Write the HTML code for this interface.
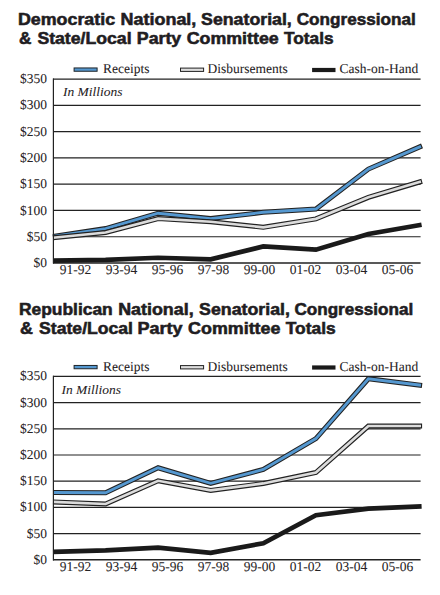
<!DOCTYPE html>
<html><head><meta charset="utf-8"><style>
html,body{margin:0;padding:0;background:#fff;width:440px;height:595px;overflow:hidden}
svg{display:block}
.t{font-family:"Liberation Sans",sans-serif;font-weight:bold;font-size:16px;fill:#1f1d22;stroke:#1f1d22;stroke-width:0.55px}
.s{font-family:"Liberation Serif",serif;font-size:13.5px;text-rendering:geometricPrecision;fill:#262224;stroke:#262224;stroke-width:0.05px}
.i{font-family:"Liberation Serif",serif;font-size:13.5px;font-style:italic;fill:#262224;stroke:#262224;stroke-width:0.05px}
</style></head><body>
<svg width="440" height="595" viewBox="0 0 440 595">

<text class="t" x="17.99" y="24.9" textLength="97.09" lengthAdjust="spacingAndGlyphs">Democratic</text>
<text class="t" x="120.58" y="24.9" textLength="75.75" lengthAdjust="spacingAndGlyphs">National,</text>
<text class="t" x="201.10" y="24.9" textLength="90.70" lengthAdjust="spacingAndGlyphs">Senatorial,</text>
<text class="t" x="296.70" y="24.9" textLength="119.02" lengthAdjust="spacingAndGlyphs">Congressional</text>
<text class="t" x="19.10" y="43.6" textLength="12.40" lengthAdjust="spacingAndGlyphs">&amp;</text>
<text class="t" x="37.40" y="43.6" textLength="94.20" lengthAdjust="spacingAndGlyphs">State/Local</text>
<text class="t" x="136.79" y="43.6" textLength="44.44" lengthAdjust="spacingAndGlyphs">Party</text>
<text class="t" x="186.70" y="43.6" textLength="92.07" lengthAdjust="spacingAndGlyphs">Committee</text>
<text class="t" x="284.10" y="43.6" textLength="49.43" lengthAdjust="spacingAndGlyphs">Totals</text>
<rect x="74.1" y="67.95" width="23" height="3.3" fill="#5598d0" stroke="#1f2428" stroke-width="1"/>
<text class="s" x="103" y="73.0">Receipts</text>
<rect x="180.5" y="68.10" width="23.1" height="3.3" fill="#dedede" stroke="#222" stroke-width="1"/>
<text class="s" x="207.5" y="73.0">Disbursements</text>
<rect x="312.1" y="67.90" width="23.4" height="4.2" fill="#1a1a1a"/>
<text class="s" x="339.5" y="73.0">Cash-on-Hand</text>
<line x1="53" y1="263.00" x2="420.6" y2="263.00" stroke="#222" stroke-width="1.6"/>
<text class="s" x="47" y="267.0" text-anchor="end">$0</text>
<line x1="53" y1="236.73" x2="420.6" y2="236.73" stroke="#222" stroke-width="1.2"/>
<text class="s" x="47" y="240.7" text-anchor="end">$50</text>
<line x1="53" y1="210.46" x2="420.6" y2="210.46" stroke="#222" stroke-width="1.2"/>
<text class="s" x="47" y="214.5" text-anchor="end">$100</text>
<line x1="53" y1="184.19" x2="420.6" y2="184.19" stroke="#222" stroke-width="1.2"/>
<text class="s" x="47" y="188.2" text-anchor="end">$150</text>
<line x1="53" y1="157.91" x2="420.6" y2="157.91" stroke="#222" stroke-width="1.2"/>
<text class="s" x="47" y="161.9" text-anchor="end">$200</text>
<line x1="53" y1="131.64" x2="420.6" y2="131.64" stroke="#222" stroke-width="1.2"/>
<text class="s" x="47" y="135.6" text-anchor="end">$250</text>
<line x1="53" y1="105.37" x2="420.6" y2="105.37" stroke="#222" stroke-width="1.2"/>
<text class="s" x="47" y="109.4" text-anchor="end">$300</text>
<line x1="53" y1="79.10" x2="420.6" y2="79.10" stroke="#222" stroke-width="1.2"/>
<text class="s" x="47" y="83.1" text-anchor="end">$350</text>
<text class="i" x="63" y="95.5">In Millions</text>
<text class="s" x="75.5" y="274.0" text-anchor="middle">91-92</text>
<text class="s" x="121.5" y="274.0" text-anchor="middle">93-94</text>
<text class="s" x="167.5" y="274.0" text-anchor="middle">95-96</text>
<text class="s" x="213.5" y="274.0" text-anchor="middle">97-98</text>
<text class="s" x="259.5" y="274.0" text-anchor="middle">99-00</text>
<text class="s" x="305.5" y="274.0" text-anchor="middle">01-02</text>
<text class="s" x="351.5" y="274.0" text-anchor="middle">03-04</text>
<text class="s" x="397.5" y="274.0" text-anchor="middle">05-06</text>
<polyline points="53.00,236.47 105.60,228.58 158.10,213.19 210.70,218.60 263.30,212.30 315.90,209.04 368.40,169.05 422.01,145.92" fill="none" stroke="#222" stroke-width="5" stroke-linejoin="miter"/>
<polyline points="53.00,236.47 105.60,228.58 158.10,213.19 210.70,218.60 263.30,212.30 315.90,209.04 368.40,169.05 421.00,146.35" fill="none" stroke="#5598d0" stroke-width="2.9" stroke-linejoin="miter"/>
<polyline points="53.00,237.78 105.60,232.53 158.10,218.60 210.70,221.75 263.30,227.27 315.90,218.86 368.40,197.32 422.05,181.24" fill="none" stroke="#222" stroke-width="5" stroke-linejoin="miter"/>
<polyline points="53.00,237.78 105.60,232.53 158.10,218.60 210.70,221.75 263.30,227.27 315.90,218.86 368.40,197.32 421.00,181.56" fill="none" stroke="#dcdcdc" stroke-width="2.7" stroke-linejoin="miter"/>
<polyline points="53.00,260.64 105.60,259.85 158.10,257.75 210.70,259.32 263.30,246.45 315.90,249.71 368.40,233.94 421.59,224.80" fill="none" stroke="#1a1a1a" stroke-width="4.7" stroke-linejoin="miter"/>
<line x1="53.4" y1="78.50" x2="53.4" y2="263.60" stroke="#222" stroke-width="1.2"/>
<text class="t" x="18.91" y="314.9" textLength="93.84" lengthAdjust="spacingAndGlyphs">Republican</text>
<text class="t" x="118.18" y="314.9" textLength="75.44" lengthAdjust="spacingAndGlyphs">National,</text>
<text class="t" x="199.10" y="314.9" textLength="90.80" lengthAdjust="spacingAndGlyphs">Senatorial,</text>
<text class="t" x="294.40" y="314.9" textLength="118.82" lengthAdjust="spacingAndGlyphs">Congressional</text>
<text class="t" x="20.00" y="333.6" textLength="12.93" lengthAdjust="spacingAndGlyphs">&amp;</text>
<text class="t" x="39.10" y="333.6" textLength="93.90" lengthAdjust="spacingAndGlyphs">State/Local</text>
<text class="t" x="137.57" y="333.6" textLength="45.06" lengthAdjust="spacingAndGlyphs">Party</text>
<text class="t" x="188.10" y="333.6" textLength="92.37" lengthAdjust="spacingAndGlyphs">Committee</text>
<text class="t" x="285.80" y="333.6" textLength="49.83" lengthAdjust="spacingAndGlyphs">Totals</text>
<rect x="74.1" y="365.45" width="23" height="3.3" fill="#5598d0" stroke="#1f2428" stroke-width="1"/>
<text class="s" x="103" y="370.5">Receipts</text>
<rect x="180.5" y="365.60" width="23.1" height="3.3" fill="#dedede" stroke="#222" stroke-width="1"/>
<text class="s" x="207.5" y="370.5">Disbursements</text>
<rect x="312.1" y="365.40" width="23.4" height="4.2" fill="#1a1a1a"/>
<text class="s" x="339.5" y="370.5">Cash-on-Hand</text>
<line x1="53" y1="559.80" x2="420.6" y2="559.80" stroke="#222" stroke-width="1.6"/>
<text class="s" x="47" y="563.8" text-anchor="end">$0</text>
<line x1="53" y1="533.60" x2="420.6" y2="533.60" stroke="#222" stroke-width="1.2"/>
<text class="s" x="47" y="537.6" text-anchor="end">$50</text>
<line x1="53" y1="507.40" x2="420.6" y2="507.40" stroke="#222" stroke-width="1.2"/>
<text class="s" x="47" y="511.4" text-anchor="end">$100</text>
<line x1="53" y1="481.20" x2="420.6" y2="481.20" stroke="#222" stroke-width="1.2"/>
<text class="s" x="47" y="485.2" text-anchor="end">$150</text>
<line x1="53" y1="455.00" x2="420.6" y2="455.00" stroke="#222" stroke-width="1.2"/>
<text class="s" x="47" y="459.0" text-anchor="end">$200</text>
<line x1="53" y1="428.80" x2="420.6" y2="428.80" stroke="#222" stroke-width="1.2"/>
<text class="s" x="47" y="432.8" text-anchor="end">$250</text>
<line x1="53" y1="402.60" x2="420.6" y2="402.60" stroke="#222" stroke-width="1.2"/>
<text class="s" x="47" y="406.6" text-anchor="end">$300</text>
<line x1="53" y1="376.40" x2="420.6" y2="376.40" stroke="#222" stroke-width="1.2"/>
<text class="s" x="47" y="380.4" text-anchor="end">$350</text>
<text class="i" x="61.4" y="393.5">In Millions</text>
<text class="s" x="75.5" y="570.8" text-anchor="middle">91-92</text>
<text class="s" x="121.5" y="570.8" text-anchor="middle">93-94</text>
<text class="s" x="167.5" y="570.8" text-anchor="middle">95-96</text>
<text class="s" x="213.5" y="570.8" text-anchor="middle">97-98</text>
<text class="s" x="259.5" y="570.8" text-anchor="middle">99-00</text>
<text class="s" x="305.5" y="570.8" text-anchor="middle">01-02</text>
<text class="s" x="351.5" y="570.8" text-anchor="middle">03-04</text>
<text class="s" x="397.5" y="570.8" text-anchor="middle">05-06</text>
<polyline points="53.00,492.47 105.60,492.73 158.10,467.79 210.70,483.30 263.30,469.51 315.90,438.60 368.40,378.76 422.09,385.44" fill="none" stroke="#222" stroke-width="5" stroke-linejoin="miter"/>
<polyline points="53.00,492.47 105.60,492.73 158.10,467.79 210.70,483.30 263.30,469.51 315.90,438.60 368.40,378.76 421.00,385.31" fill="none" stroke="#5598d0" stroke-width="2.9" stroke-linejoin="miter"/>
<polyline points="53.00,501.90 105.60,503.99 158.10,480.78 210.70,490.42 263.30,483.45 315.90,472.55 368.40,426.02 422.10,426.02" fill="none" stroke="#222" stroke-width="5" stroke-linejoin="miter"/>
<polyline points="53.00,501.90 105.60,503.99 158.10,480.78 210.70,490.42 263.30,483.45 315.90,472.55 368.40,426.02 421.00,426.02" fill="none" stroke="#dcdcdc" stroke-width="2.7" stroke-linejoin="miter"/>
<polyline points="53.00,551.94 105.60,550.37 158.10,547.59 210.70,552.88 263.30,543.29 315.90,515.26 368.40,508.71 421.60,506.33" fill="none" stroke="#1a1a1a" stroke-width="4.7" stroke-linejoin="miter"/>
<line x1="53.4" y1="375.80" x2="53.4" y2="560.40" stroke="#222" stroke-width="1.2"/>
</svg></body></html>
